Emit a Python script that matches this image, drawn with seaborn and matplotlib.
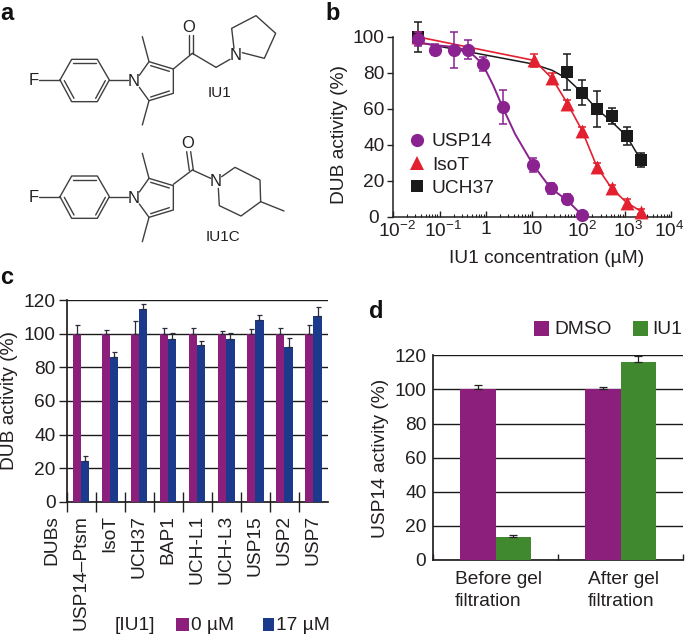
import numpy as np
import pandas as pd
import matplotlib
matplotlib.use("Agg")
import matplotlib.pyplot as plt
from matplotlib.lines import Line2D
from matplotlib.patches import Rectangle
from matplotlib.transforms import ScaledTranslation
import seaborn as sns

# ---------- data: panel b ----------
conc_usp14 = [0.035, 0.078, 0.20, 0.42, 0.85, 2.3, 10.5, 25, 56, 120]
act_usp14 = [99, 93, 93, 93, 85, 61, 29, 16, 10, 1]
err_usp14 = [4, 3, 10, 5.5, 4, 9.5, 4, 3, 3, 0.5]
conc_isot = [0.035, 11, 27, 58, 120, 250, 520, 1100, 2300]
act_isot = [100, 87, 77, 63, 48, 28, 16, 8, 3]
err_isot = [3, 3.5, 3, 2, 2, 2, 2, 2, 1.5]
conc_uch37 = [0.035, 56, 120, 250, 520, 1100, 2300]
act_uch37 = [100, 80.5, 69, 60, 56, 45, 31.5]
err_uch37 = [8.5, 10, 7, 10, 4.5, 5, 4]
fit_conc_uch37 = [0.035, 10.5, 27, 56, 120, 250, 520, 1100, 2300]
fit_act_uch37 = [97, 85, 81.5, 77, 69, 60, 53, 45, 31]
fit_conc_usp14 = [0.035, 0.078, 0.20, 0.42, 0.85, 1.45, 2.3, 4.3, 10.5, 25, 56, 120]
fit_act_usp14 = [97, 95.5, 94.5, 92.5, 85, 73, 61, 46, 29, 16, 9.5, 1]
decade_ticks = [0.01, 0.1, 1, 10, 100, 1000, 10000]
decade_labels = ["10$^{-2}$", "10$^{-1}$", "1", "10", "10$^{2}$", "10$^{3}$", "10$^{4}$"]

# ---------- data: panel c ----------
dubs = ["USP14–Ptsm", "IsoT", "UCH37", "BAP1", "UCH-L1", "UCH-L3", "USP15", "USP2", "USP7"]
act_0 = [100, 100, 100, 100, 100, 100, 100, 100, 100]
act_17 = [24.5, 86.5, 115, 97, 93.5, 97, 108.5, 92, 110.7]
err_0 = [5.5, 2.5, 7.5, 3.5, 3.3, 2, 3, 3.5, 5]
err_17 = [3, 2.5, 2.5, 3.5, 2.5, 3.5, 3, 5.5, 5.3]

# ---------- data: panel d ----------
gel_groups = ["Before gel\nfiltration", "After gel\nfiltration"]
act_dmso = [100, 100]
act_iu1 = [13.5, 116]
err_dmso = [2.5, 1.5]
err_iu1 = [1.3, 3.5]

# ---------- illustration: panel a (structures, in 3x crop pixels) ----------
ring = [(180, 240), (215, 178), (292, 178), (328, 240), (292, 305), (215, 305), (180, 240)]
ring_inner = [[(220, 189), (288, 189)], [(193, 242), (222, 295)], [(316, 242), (287, 295)]]
pyrrole = [(418, 226), (447, 185), (520, 207), (520, 280), (447, 302), (418, 262)]
pyrrole_inner = [[(452, 197), (508, 214)], [(452, 291), (508, 273)]]
common_bonds = [[(118, 240), (180, 240)], [(328, 240), (384, 240)],
                [(447, 185), (427, 110)], [(447, 302), (427, 375)]]
iu1_bonds = [[(520, 207), (577, 160)], [(568, 162), (568, 105)], [(580, 162), (580, 105)],
             [(577, 160), (648, 202)], [(648, 202), (690, 178)],
             [(702, 145), (695, 85), (768, 47), (827, 100), (793, 175), (727, 158)]]
iu1c_bonds = [[(520, 553), (577, 510)], [(560, 455), (568, 512)], [(572, 455), (580, 510)],
              [(577, 510), (632, 535)],
              [(665, 530), (705, 502), (780, 540), (782, 605), (723, 648), (658, 617), (655, 565)],
              [(782, 605), (852, 633)]]

# ---------- style ----------
sns.set_theme(style="white")
FS = 13.8
INK = "#231f20"
plt.rcParams.update({
    "font.family": ["Liberation Sans", "DejaVu Sans"],
    "mathtext.fontset": "custom",
    "mathtext.rm": "Liberation Sans",
    "mathtext.default": "regular",
    "font.size": FS,
    "text.color": INK,
    "axes.labelcolor": INK,
    "xtick.color": INK,
    "ytick.color": INK,
    "axes.edgecolor": INK,
})
PURPLE_B = "#8a2290"
RED = "#e2202f"
BLACK = "#1a1a1a"
PURPLE = "#8c1f7c"
BLUE = "#1b3a8c"
GREEN = "#41892f"

W, H = 685, 635
fig = plt.figure(figsize=(W / 100, H / 100), dpi=100, facecolor="white")


def add_axes(left, top, right, bottom):
    return fig.add_axes([left / W, 1 - bottom / H, (right - left) / W, (bottom - top) / H])


def place_ylabel(ax, text, x_px, y_px):
    ax.set_ylabel(text, fontsize=FS, va="center", ha="center", rotation=90)
    inv = ax.transAxes.inverted().transform((x_px, H - y_px))
    ax.yaxis.set_label_coords(inv[0], inv[1])


# ---------- overlay: panel a, panel letters, legends ----------
ov = fig.add_axes([0, 0, 1, 1], zorder=5)
ov.set_xlim(0, W)
ov.set_ylim(H, 0)
ov.axis("off")
ov.patch.set_alpha(0)


def poly(points, dy=0):
    xs = [p[0] / 3 for p in points]
    ys = [(p[1] + dy) / 3 for p in points]
    ov.plot(xs, ys, color="#3f3f3f", lw=1.0, solid_capstyle="round")


for dy in (0, 350):
    poly(ring, dy)
    poly(pyrrole, dy)
    for seg in ring_inner + pyrrole_inner + common_bonds:
        poly(seg, dy)
    ov.text(100 / 3, (241 + dy) / 3, "F", fontsize=12, ha="center", va="center")
    ov.text(400 / 3, (245 + dy) / 3, "N", fontsize=12, ha="center", va="center")
for seg in iu1_bonds:
    poly(seg)
for seg in iu1c_bonds:
    poly(seg)
for x, y, s in [(567, 82, "O"), (708, 165, "N"), (563, 432, "O"), (648, 546, "N"),
                (658, 278, "IU1"), (668, 712, "IU1C")]:
    ov.text(x / 3, y / 3, s, fontsize=12 if s in "ON" else 11, ha="center", va="center")

for x, y, s in [(7, 13, "a"), (333, 13, "b"), (7, 278, "c"), (376, 311, "d")]:
    ov.text(x, y, s, fontsize=17, fontweight="bold", color="#111111", ha="center", va="center")

# panel c legend
ov.text(135, 625, "[IU1]", fontsize=FS, ha="center", va="center")
ov.add_patch(Rectangle((176.5, 618), 12.5, 13, color=PURPLE, lw=0))
ov.text(191.5, 625, "0 µM", fontsize=FS, ha="left", va="center")
ov.add_patch(Rectangle((263.5, 618), 11, 13, color=BLUE, lw=0))
ov.text(276.5, 625, "17 µM", fontsize=FS, ha="left", va="center")
# panel d legend
ov.add_patch(Rectangle((534, 321), 15, 15, color=PURPLE, lw=0))
ov.text(554, 329, "DMSO", fontsize=FS, ha="left", va="center")
ov.add_patch(Rectangle((633, 321), 15, 15, color=GREEN, lw=0))
ov.text(652, 329, "IU1", fontsize=FS, ha="left", va="center")

# ---------- panel b ----------
axb = add_axes(393.3, 19, 671, 217)
axb.set_xscale("log")
series = [
    (conc_uch37, act_uch37, err_uch37, BLACK, "s", 9),
    (conc_isot, act_isot, err_isot, RED, "^", 10),
    (conc_usp14, act_usp14, err_usp14, PURPLE_B, "o", 9.5),
]
sns.lineplot(x=fit_conc_uch37, y=fit_act_uch37, color=BLACK, lw=1.1, ax=axb, zorder=2)
sns.lineplot(x=conc_isot, y=act_isot, color=RED, lw=1.2, ax=axb, zorder=3)
sns.lineplot(x=fit_conc_usp14, y=fit_act_usp14, color=PURPLE_B, lw=1.4, ax=axb, zorder=4)
for i, (x, y, e, c, m, ms) in enumerate(series):
    axb.errorbar(x, y, yerr=e, fmt="none", ecolor=c, elinewidth=1.1,
                 capsize=3, capthick=1.1, zorder=5 + i, clip_on=False)
    sns.scatterplot(x=x, y=y, marker=m, color=c, s=ms ** 2, linewidth=0, ax=axb,
                    zorder=5 + i, clip_on=False, legend=False)
axb.set_xlim(0.01, 10000)
axb.set_ylim(0, 110)
axb.set_yticks([0, 20, 40, 60, 80, 100])
axb.set_xticks(decade_ticks)
axb.set_xticklabels(decade_labels, fontsize=FS)
axb.xaxis.set_minor_locator(matplotlib.ticker.LogLocator(base=10, subs=np.arange(2, 10), numticks=12))
axb.xaxis.set_minor_formatter(matplotlib.ticker.NullFormatter())
axb.tick_params(axis="x", which="major", direction="in", length=4.5, width=1, bottom=True, labelsize=FS, pad=3)
axb.tick_params(axis="x", which="minor", direction="in", length=2.5, width=0.8, bottom=True)
axb.tick_params(axis="y", direction="out", length=4.5, width=1, left=True, labelsize=FS, pad=2)
for lab, dx in zip(axb.get_xticklabels(), [3.5, 3.5, 0, 0, 3.5, 3.5, -1.5]):
    lab.set_transform(lab.get_transform() + ScaledTranslation(dx / 100, 0, fig.dpi_scale_trans))
zero_label = axb.get_yticklabels()[0]
zero_label.set_transform(zero_label.get_transform() + ScaledTranslation(-5 / 100, 0, fig.dpi_scale_trans))
sns.despine(ax=axb)
axb.spines["left"].set_bounds(0, 100)
for s in ("left", "bottom"):
    axb.spines[s].set_linewidth(1.1)
axb.patch.set_alpha(0)
place_ylabel(axb, "DUB activity (%)", 339, 135)
axb.set_xlabel("IU1 concentration (µM)", fontsize=FS)
pt = axb.transAxes.inverted().transform((547, H - 259))
axb.xaxis.set_label_coords(pt[0], pt[1])
axb.xaxis.label.set_va("center")
handles = [Line2D([], [], color=c, marker=m, ms=ms, mew=0, ls="none", label=n)
           for c, m, n, ms in [(PURPLE_B, "o", "USP14", 9.5), (RED, "^", "IsoT", 10), (BLACK, "s", "UCH37", 9)]]
leg = axb.legend(handles=handles, frameon=False, fontsize=FS, loc="upper left",
                 bbox_to_anchor=((403 - 393.3) / 277.7, (217 - 133) / 198),
                 borderaxespad=0, borderpad=0, handletextpad=0.0, labelspacing=0.3, handlelength=1.5)

# ---------- panel c ----------
axc = add_axes(66.7, 300.3, 328, 501.7)
dfc = pd.DataFrame({
    "dub": dubs * 2,
    "activity": act_0 + act_17,
    "iu1": ["0 µM"] * len(dubs) + ["17 µM"] * len(dubs),
})
sns.barplot(data=dfc, x="dub", y="activity", hue="iu1", palette=[PURPLE, BLUE], width=0.56,
            gap=0, saturation=1, errorbar=None, legend=False, ax=axc, zorder=3, linewidth=0)
for cont, errs in zip(axc.containers, (err_0, err_17)):
    for bar, e in zip(cont, errs):
        x = bar.get_x() + bar.get_width() / 2
        axc.errorbar([x], [bar.get_height()], yerr=[[0], [e]], color="#2b2b3a", elinewidth=0.9,
                     capsize=1.8, capthick=0.9, zorder=4)
axc.set_xlim(-0.5, 8.5)
axc.set_ylim(0, 120)
axc.set_yticks(range(0, 121, 20))
axc.yaxis.grid(True, color="#1a1a1a", lw=1)
axc.xaxis.grid(False)
axc.set_axisbelow(True)
axc.set_xlabel("")
axc.tick_params(axis="y", direction="out", length=6, width=1, left=True, labelsize=FS, pad=2)
axc.tick_params(axis="x", which="major", length=0, pad=9.5)
axc.set_xticks(range(len(dubs)))
axc.set_xticklabels(dubs, rotation=90, fontsize=FS, ha="center", va="top")
axc.set_xticks(np.arange(-0.5, 8.5, 1), minor=True)
axc.tick_params(axis="x", which="minor", direction="inout", length=14, width=1, bottom=True)
sns.despine(ax=axc, top=True, right=True)
place_ylabel(axc, "DUB activity (%)", 10, 400)
ov.text(52, 515.5, "DUBs", fontsize=FS, rotation=90, ha="center", va="top")

# ---------- panel d ----------
axd = add_axes(433.3, 355.3, 683, 560)
dfd = pd.DataFrame({
    "group": gel_groups * 2,
    "activity": act_dmso + act_iu1,
    "cond": ["DMSO"] * 2 + ["IU1"] * 2,
})
sns.barplot(data=dfd, x="group", y="activity", hue="cond", palette=[PURPLE, GREEN], width=0.566,
            gap=0, saturation=1, errorbar=None, legend=False, ax=axd, zorder=3, linewidth=0)
for cont, errs in zip(axd.containers, (err_dmso, err_iu1)):
    for bar, e in zip(cont, errs):
        x = bar.get_x() + bar.get_width() / 2
        axd.errorbar([x], [bar.get_height()], yerr=[[0], [e]], color="#222222", elinewidth=0.9,
                     capsize=3, capthick=0.9, zorder=4, clip_on=False)
axd.set_xlim(-0.5, 1.5)
axd.set_ylim(0, 120)
axd.set_yticks(range(0, 121, 20))
axd.yaxis.grid(True, color="#1a1a1a", lw=1)
axd.xaxis.grid(False)
axd.set_axisbelow(True)
axd.set_xlabel("")
axd.tick_params(axis="y", length=0, labelsize=FS, pad=5)
axd.set_xticks([0, 1])
axd.set_xticklabels(gel_groups, fontsize=FS, multialignment="left", linespacing=1.35)
axd.tick_params(axis="x", which="major", length=0, pad=8)
axd.set_xticks([-0.5, 0.5, 1.5], minor=True)
axd.tick_params(axis="x", which="minor", direction="in", length=4.5, width=1, bottom=True)
shift = ScaledTranslation(2.5 / 100, 0, fig.dpi_scale_trans)
for lab in axd.get_xticklabels():
    lab.set_transform(lab.get_transform() + shift)
sns.despine(ax=axd, top=True, right=True)
place_ylabel(axd, "USP14 activity (%)", 380, 458)

fig.savefig("out.png", dpi=100, facecolor="white")
